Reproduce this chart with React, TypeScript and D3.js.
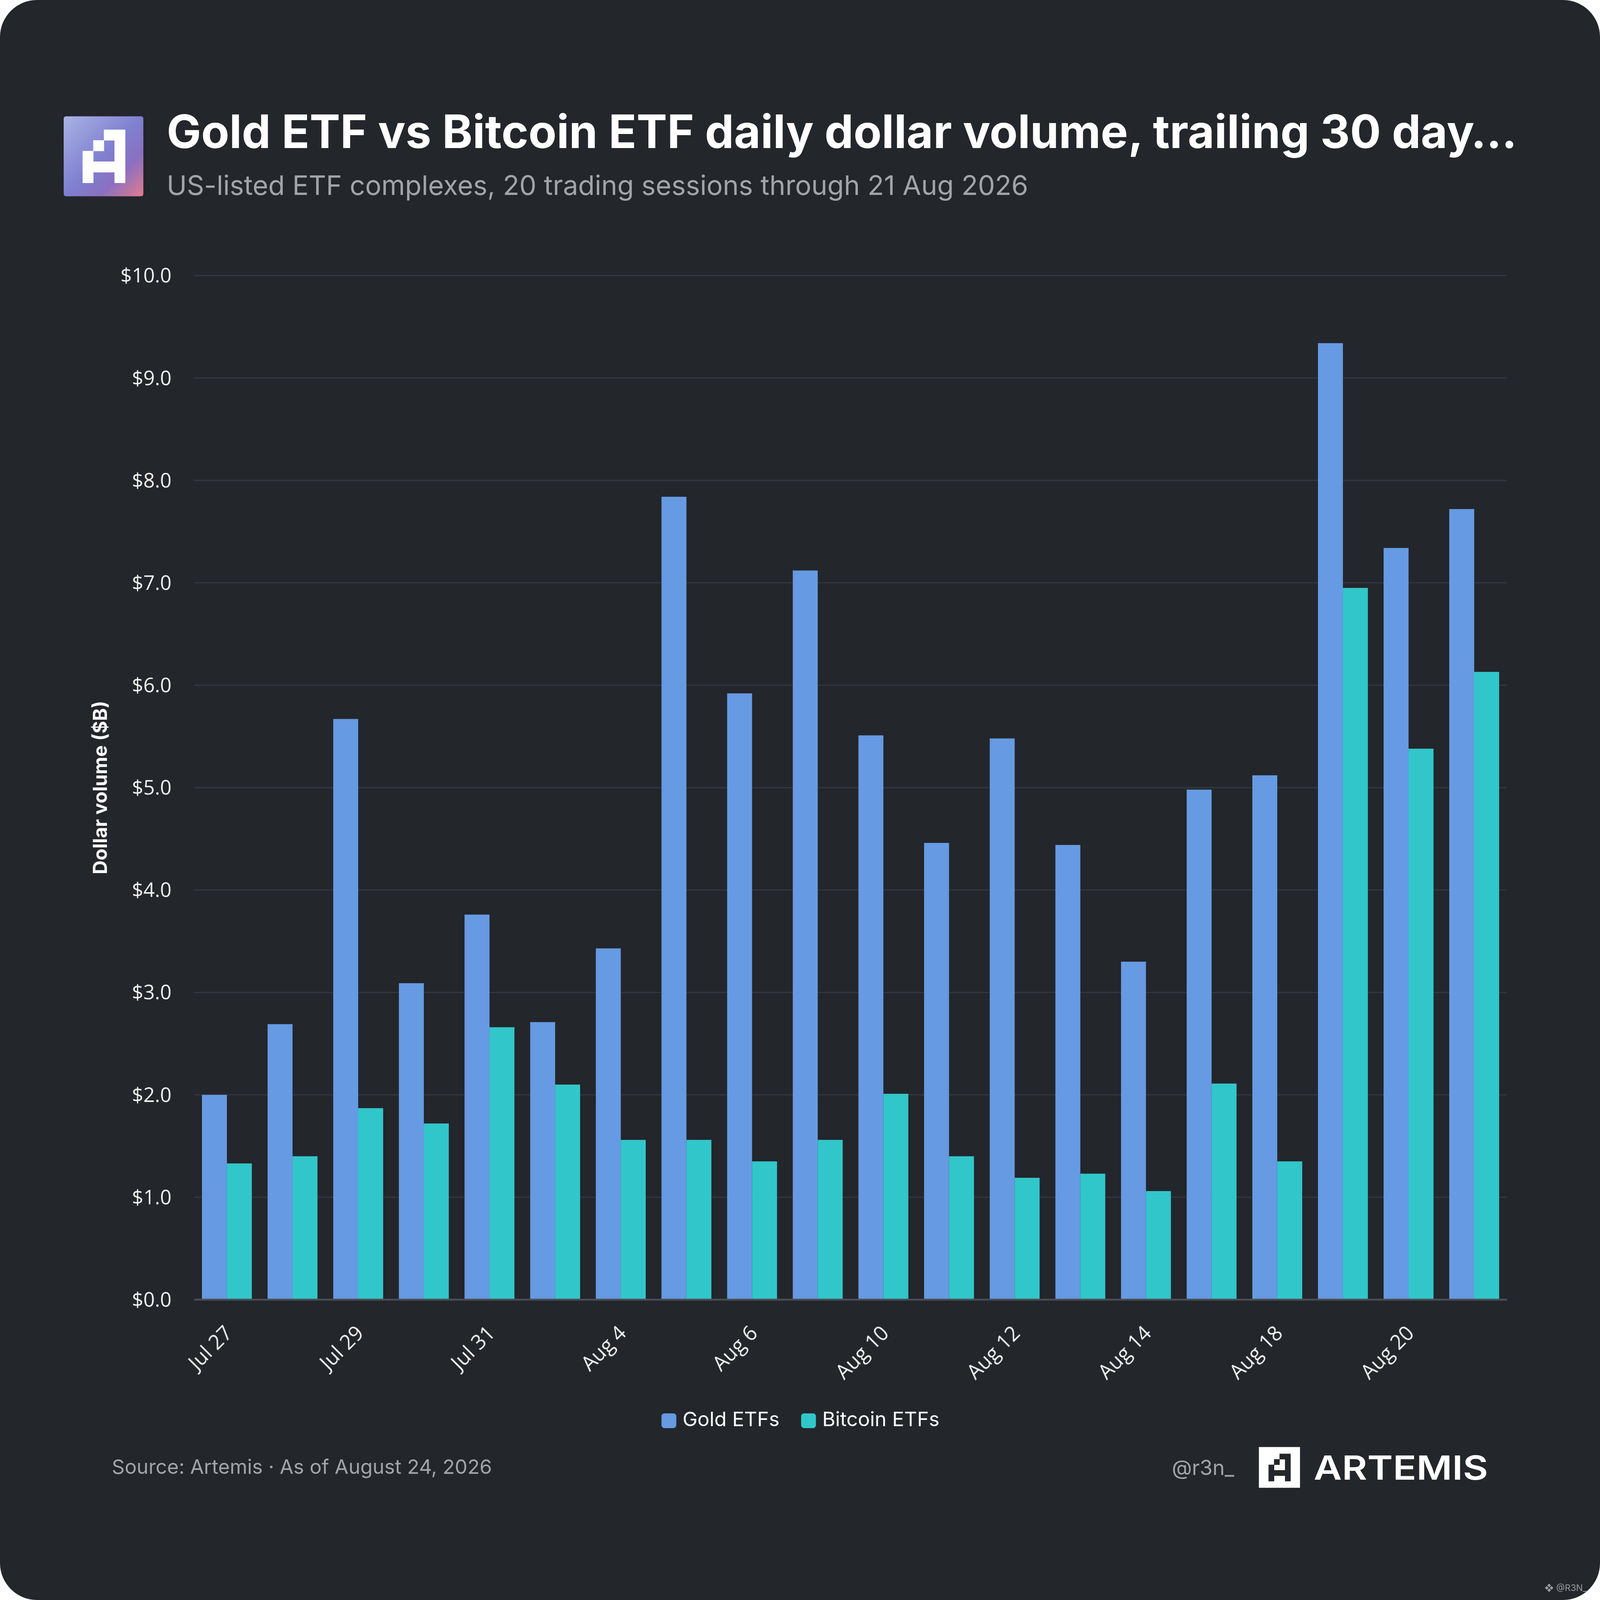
import * as d3 from 'd3';
import React from 'react';

// trading sessions, 27 Jul - 21 Aug 2026
const sessions = [
  'Jul 27', 'Jul 28', 'Jul 29', 'Jul 30', 'Jul 31',
  'Aug 3', 'Aug 4', 'Aug 5', 'Aug 6', 'Aug 7',
  'Aug 10', 'Aug 11', 'Aug 12', 'Aug 13', 'Aug 14',
  'Aug 17', 'Aug 18', 'Aug 19', 'Aug 20', 'Aug 21',
];

// daily dollar volume, $B
const goldValues = [
  2.0, 2.69, 5.67, 3.09, 3.76,
  2.71, 3.43, 7.84, 5.92, 7.12,
  5.51, 4.46, 5.48, 4.44, 3.3,
  4.98, 5.12, 9.34, 7.34, 7.72,
];
const bitcoinValues = [
  1.33, 1.4, 1.87, 1.72, 2.66,
  2.1, 1.56, 1.56, 1.35, 1.56,
  2.01, 1.4, 1.19, 1.23, 1.06,
  2.11, 1.35, 6.95, 5.38, 6.13,
];

const seriesNames = ['Gold ETFs', 'Bitcoin ETFs'];
const seriesColors = ['#669ae2', '#31c6ca'];
const yTicks = [0, 1, 2, 3, 4, 5, 6, 7, 8, 9, 10];

const W = 4320;
const H = 4320;
const BG = '#23262b';
const SANS = 'Inter, "Noto Sans", sans-serif';
const TICK_FONT = '"Open Sans", "Noto Sans", sans-serif';

// pixel "A" mark used in both logos (4 columns x 5 rows)
const markCells = [
  [2, 0], [3, 0],
  [1, 1], [3, 1],
  [0, 2], [3, 2],
  [0, 3], [1, 3], [2, 3], [3, 3],
  [0, 4], [3, 4],
];

const Mark = ({ x, y, unit, fill }: { x: number; y: number; unit: number; fill: string }) => (
  <g>
    {markCells.map(([c, r], i) => (
      <rect key={i} x={x + c * unit} y={y + r * unit} width={unit + 0.6} height={unit + 0.6} fill={fill} />
    ))}
  </g>
);

export default function App() {
  const margin = { left: 524, right: W - 4069, top: 744, bottom: H - 3509 };
  const plotW = W - margin.left - margin.right;
  const plotH = H - margin.top - margin.bottom;

  const x = d3.scaleBand<string>()
    .domain(sessions)
    .range([0, plotW])
    .paddingInner(0.24)
    .paddingOuter(0.12);

  const xSeries = d3.scaleBand<number>()
    .domain([0, 1])
    .range([0, x.bandwidth()]);

  const y = d3.scaleLinear().domain([0, 10]).range([plotH, 0]);

  const series = [goldValues, bitcoinValues];

  return (
    <svg
      viewBox={`0 0 ${W} ${H}`}
      preserveAspectRatio="none"
      style={{ position: 'fixed', left: 0, top: 0, width: '100%', height: '100%', display: 'block' }}
    >
      <defs>
        <linearGradient id="logoGrad" x1="0" y1="0" x2="1" y2="1">
          <stop offset="0" stopColor="#aab3e3" />
          <stop offset="0.5" stopColor="#7f7fd0" />
          <stop offset="0.72" stopColor="#8a70c0" />
          <stop offset="1" stopColor="#e27b8e" />
        </linearGradient>
      </defs>

      <rect x={0} y={0} width={W} height={H} fill="#ffffff" />
      <rect x={0} y={0} width={W} height={H} rx={100} fill={BG} />

      {/* header */}
      <rect x={172} y={314} width={215} height={216} rx={6} fill="url(#logoGrad)" />
      <Mark x={223} y={350} unit={28.7} fill="#ffffff" />
      <text x={450} y={400} fill="#ffffff" fontFamily={SANS} fontWeight={700} fontSize={124}
        textLength={3646} lengthAdjust="spacingAndGlyphs">
        Gold ETF vs Bitcoin ETF daily dollar volume, trailing 30 day…
      </text>
      <text x={450} y={526} fill="#a3a4a8" fontFamily={SANS} fontSize={73}>
        US-listed ETF complexes, 20 trading sessions through 21 Aug 2026
      </text>

      <g transform={`translate(${margin.left},${margin.top})`}>
        {/* grid */}
        {yTicks.map((t) => (
          <g key={t}>
            {t > 0 && (
              <line x1={0} x2={plotW} y1={y(t)} y2={y(t)} stroke="#35383e" strokeWidth={3} />
            )}
            <text x={-61} y={y(t)} dy="0.35em" textAnchor="end" fill="#f2f2f2"
              fontFamily={TICK_FONT} fontSize={54}>
              {`$${t.toFixed(1)}`}
            </text>
          </g>
        ))}

        {/* bars */}
        {sessions.map((s, i) => (
          <g key={s} transform={`translate(${x(s)},0)`}>
            {series.map((vals, k) => (
              <rect
                key={k}
                x={xSeries(k)}
                y={y(vals[i])}
                width={xSeries.bandwidth()}
                height={plotH - y(vals[i])}
                fill={seriesColors[k]}
              />
            ))}
          </g>
        ))}

        <line x1={0} x2={plotW} y1={plotH} y2={plotH} stroke="#4a4e55" strokeWidth={5} />

        {/* x labels, every other session */}
        {sessions.map((s, i) =>
          i % 2 === 0 ? (
            <text
              key={s}
              transform={`translate(${(x(s) as number) + x.bandwidth() / 2 + 18},${plotH + 94}) rotate(-45)`}
              textAnchor="end"
              fill="#f2f2f2"
              fontFamily={TICK_FONT}
              fontSize={55}
            >
              {s}
            </text>
          ) : null
        )}

        <text
          transform={`translate(${270 - margin.left},${plotH / 2}) rotate(-90)`}
          textAnchor="middle"
          dy="0.35em"
          fill="#ffffff"
          fontFamily={SANS}
          fontWeight={700}
          fontSize={52}
        >
          Dollar volume ($B)
        </text>
      </g>

      {/* legend */}
      {seriesNames.map((name, k) => {
        const lx = [1786, 2163][k];
        return (
          <g key={name}>
            <rect x={lx} y={3816} width={40} height={40} rx={8} fill={seriesColors[k]} />
            <text x={lx + 57} y={3851} fill="#ffffff" fontFamily={SANS} fontSize={54}>
              {name}
            </text>
          </g>
        );
      })}

      {/* footer */}
      <text x={302} y={3979} fill="#a3a4a8" fontFamily={SANS} fontSize={54}>
        Source: Artemis · As of August 24, 2026
      </text>
      <text x={3164} y={3982} fill="#a3a4a8" fontFamily={SANS} fontSize={56}>
        @r3n_
      </text>
      <rect x={3399} y={3907} width={111} height={110} fill="#ffffff" />
      <Mark x={3425} y={3925} unit={14.8} fill={BG} />
      <text x={3547} y={3995} fill="#ffffff" fontFamily={SANS} fontWeight={600} fontSize={90}
        textLength={471} lengthAdjust="spacingAndGlyphs">
        ARTEMIS
      </text>
      <text x={4170} y={4296} fill="#9a9ca0" fontFamily={SANS} fontSize={24}>
        ❖ @R3N_
      </text>
    </svg>
  );
}
